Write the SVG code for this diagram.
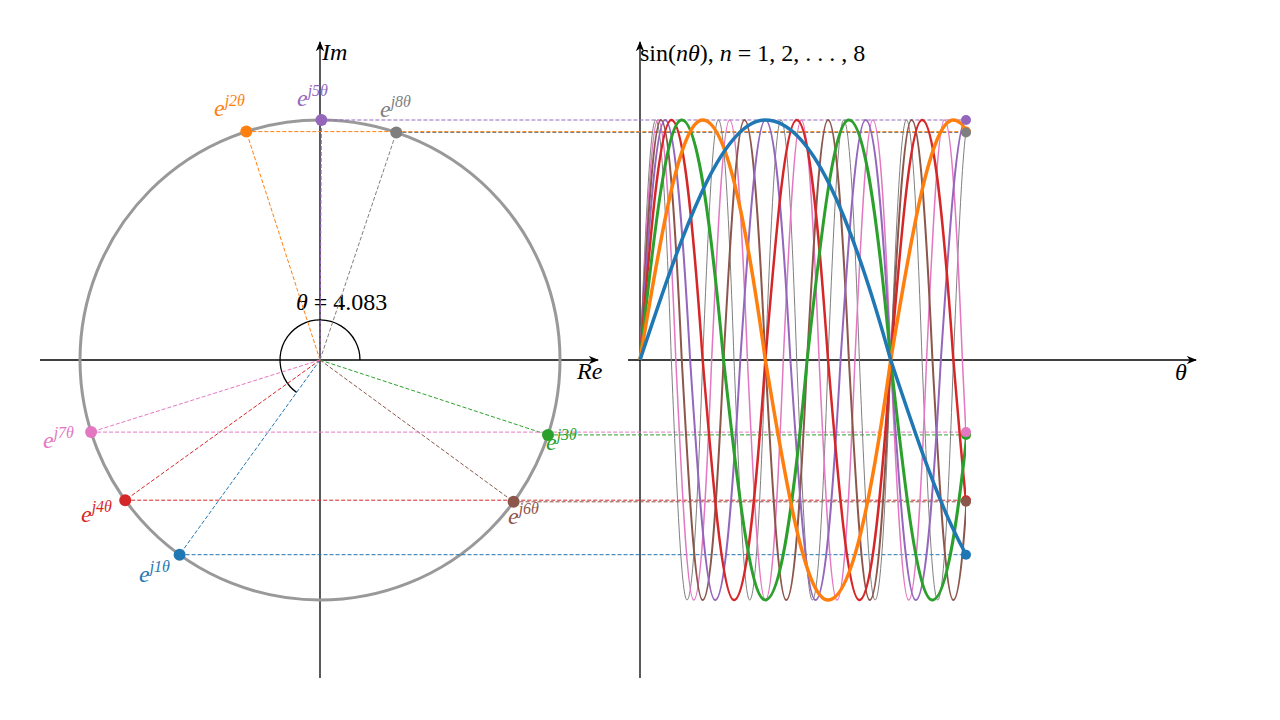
<svg xmlns="http://www.w3.org/2000/svg" width="1280" height="720" viewBox="0 0 1280 720">
<style>
.ax{stroke:#000;stroke-width:1.3;fill:none}
.lb{font-family:"Liberation Serif","DejaVu Serif",serif;font-size:24px}
.it{font-style:italic}
.dl{stroke-width:1;stroke-dasharray:4 2;fill:none}
.w{fill:none;stroke-linejoin:round}
</style>
<defs>
<marker id="ar" viewBox="0 0 10 10" refX="9" refY="5" markerWidth="8" markerHeight="8" orient="auto"><path d="M0,1 L10,5 L0,9 L3,5 Z" fill="#000"/></marker>
<clipPath id="cp"><rect x="638" y="100" width="328" height="520"/></clipPath>
</defs>
<rect width="1280" height="720" fill="#fff"/>
<g id="axes">
<line class="ax" x1="40" y1="360" x2="598" y2="360" marker-end="url(#ar)"/>
<line class="ax" x1="320" y1="678" x2="320" y2="42" marker-end="url(#ar)"/>
<line class="ax" x1="628" y1="360" x2="1196" y2="360" marker-end="url(#ar)"/>
<line class="ax" x1="640" y1="678" x2="640" y2="42" marker-end="url(#ar)"/>
<text class="lb it" x="322" y="60">Im</text>
<text class="lb it" x="577" y="379">Re</text>
<text class="lb it" x="1175" y="380">θ</text>
<text class="lb" x="640" y="61">sin(<tspan class="it">nθ</tspan>), <tspan class="it">n</tspan> = 1, 2, . . . , 8</text>
</g>
<g id="circle"><circle cx="320" cy="360" r="240" fill="none" stroke="#999" stroke-width="3"/></g>
<g id="angle">
<path d="M360,360 A40,40 0 1 0 296.6,392.4" fill="none" stroke="#000" stroke-width="1.3"/>
<text class="lb" x="296" y="310"><tspan class="it">θ</tspan> = 4.083</text>
</g>
<g id="connectors">
<path class="dl" stroke="#1f77b4" d="M320,360 L179.6,554.7 L966,554.7"/>
<path class="dl" stroke="#ff7f0e" d="M320,360 L246.3,131.6 L966,131.6"/>
<path class="dl" stroke="#2ca02c" d="M320,360 L548,434.9 L966,434.9"/>
<path class="dl" stroke="#d62728" d="M320,360 L125.2,500.2 L966,500.2"/>
<path class="dl" stroke="#9467bd" d="M320,360 L321.4,120 L966,120"/>
<path class="dl" stroke="#8c564b" d="M320,360 L513.6,501.8 L966,501.8"/>
<path class="dl" stroke="#e377c2" d="M320,360 L91.1,432.1 L966,432.1"/>
<path class="dl" stroke="#7f7f7f" d="M320,360 L396.3,132.5 L966,132.5"/>
</g>
<g id="waves" clip-path="url(#cp)">
<path class="w" stroke="#7f7f7f" stroke-width="1" d="M640,360 c5.11,-122.95 10,-240 15.67,-240 c5.67,0 10.56,93.05 15.67,240 c5.11,122.95 10,240 15.67,240 c5.67,0 10.56,-93.05 15.67,-240 c5.11,-122.95 10,-240 15.67,-240 c5.67,0 10.56,93.05 15.67,240 c5.11,122.95 10,240 15.67,240 c5.67,0 10.56,-93.05 15.67,-240 c5.11,-122.95 10,-240 15.67,-240 c5.67,0 10.56,93.05 15.67,240 c5.11,122.95 10,240 15.67,240 c5.67,0 10.56,-93.05 15.67,-240 c5.11,-122.95 10,-240 15.67,-240 c5.67,0 10.56,93.05 15.67,240 c5.11,122.95 10,240 15.67,240 c5.67,0 10.56,-93.05 15.67,-240 c5.11,-122.95 10,-240 15.67,-240 c5.67,0 10.56,93.05 15.67,240 c5.11,122.95 10,240 15.67,240 c5.67,0 10.56,-93.05 15.67,-240 c5.11,-122.95 10,-240 15.67,-240 c5.67,0 10.56,93.05 15.67,240 c5.11,122.95 10,240 15.67,240 c5.67,0 10.56,-93.05 15.67,-240"/>
<path class="w" stroke="#e377c2" stroke-width="1.5" d="M640,360 c5.84,-122.95 11.43,-240 17.91,-240 c6.48,0 12.07,93.05 17.91,240 c5.84,122.95 11.43,240 17.91,240 c6.48,0 12.07,-93.05 17.91,-240 c5.84,-122.95 11.43,-240 17.91,-240 c6.48,0 12.07,93.05 17.91,240 c5.84,122.95 11.43,240 17.91,240 c6.48,0 12.07,-93.05 17.91,-240 c5.84,-122.95 11.43,-240 17.91,-240 c6.48,0 12.07,93.05 17.91,240 c5.84,122.95 11.43,240 17.91,240 c6.48,0 12.07,-93.05 17.91,-240 c5.84,-122.95 11.43,-240 17.91,-240 c6.48,0 12.07,93.05 17.91,240 c5.84,122.95 11.43,240 17.91,240 c6.48,0 12.07,-93.05 17.91,-240 c5.84,-122.95 11.43,-240 17.91,-240 c6.48,0 12.07,93.05 17.91,240 c5.84,122.95 11.43,240 17.91,240 c6.48,0 12.07,-93.05 17.91,-240"/>
<path class="w" stroke="#8c564b" stroke-width="2" d="M640,360 c6.81,-122.95 13.33,-240 20.89,-240 c7.56,0 14.08,93.05 20.89,240 c6.81,122.95 13.33,240 20.89,240 c7.56,0 14.08,-93.05 20.89,-240 c6.81,-122.95 13.33,-240 20.89,-240 c7.56,0 14.08,93.05 20.89,240 c6.81,122.95 13.33,240 20.89,240 c7.56,0 14.08,-93.05 20.89,-240 c6.81,-122.95 13.33,-240 20.89,-240 c7.56,0 14.08,93.05 20.89,240 c6.81,122.95 13.33,240 20.89,240 c7.56,0 14.08,-93.05 20.89,-240 c6.81,-122.95 13.33,-240 20.89,-240 c7.56,0 14.08,93.05 20.89,240 c6.81,122.95 13.33,240 20.89,240 c7.56,0 14.08,-93.05 20.89,-240"/>
<path class="w" stroke="#9467bd" stroke-width="2" d="M640,360 c8.18,-122.95 16,-240 25.07,-240 c9.07,0 16.89,93.05 25.07,240 c8.18,122.95 16,240 25.07,240 c9.07,0 16.89,-93.05 25.07,-240 c8.18,-122.95 16,-240 25.07,-240 c9.07,0 16.89,93.05 25.07,240 c8.18,122.95 16,240 25.07,240 c9.07,0 16.89,-93.05 25.07,-240 c8.18,-122.95 16,-240 25.07,-240 c9.07,0 16.89,93.05 25.07,240 c8.18,122.95 16,240 25.07,240 c9.07,0 16.89,-93.05 25.07,-240 c8.18,-122.95 16,-240 25.07,-240 c9.07,0 16.89,93.05 25.07,240 c8.18,122.95 16,240 25.07,240 c9.07,0 16.89,-93.05 25.07,-240"/>
<path class="w" stroke="#d62728" stroke-width="2.5" d="M640,360 c10.22,-122.95 20,-240 31.34,-240 c11.34,0 21.12,93.05 31.34,240 c10.22,122.95 20,240 31.34,240 c11.34,0 21.12,-93.05 31.34,-240 c10.22,-122.95 20,-240 31.34,-240 c11.34,0 21.12,93.05 31.34,240 c10.22,122.95 20,240 31.34,240 c11.34,0 21.12,-93.05 31.34,-240 c10.22,-122.95 20,-240 31.34,-240 c11.34,0 21.12,93.05 31.34,240 c10.22,122.95 20,240 31.34,240 c11.34,0 21.12,-93.05 31.34,-240"/>
<path class="w" stroke="#2ca02c" stroke-width="3" d="M640,360 c13.62,-122.95 26.66,-240 41.78,-240 c15.12,0 28.16,93.05 41.78,240 c13.62,122.95 26.66,240 41.78,240 c15.12,0 28.16,-93.05 41.78,-240 c13.62,-122.95 26.66,-240 41.78,-240 c15.12,0 28.16,93.05 41.78,240 c13.62,122.95 26.66,240 41.78,240 c15.12,0 28.16,-93.05 41.78,-240"/>
<path class="w" stroke="#ff7f0e" stroke-width="3.5" d="M640,360 c20.44,-122.95 40,-240 62.68,-240 c22.68,0 42.24,93.05 62.68,240 c20.44,122.95 40,240 62.68,240 c22.68,0 42.24,-93.05 62.68,-240 c20.44,-122.95 40,-240 62.68,-240 c22.68,0 42.24,93.05 62.68,240 c20.44,122.95 40,240 62.68,240 c22.68,0 42.24,-93.05 62.68,-240"/>
<path class="w" stroke="#1f77b4" stroke-width="3.5" d="M640,360 c40.88,-122.95 79.99,-240 125.35,-240 c45.36,0 84.47,93.05 125.35,240 c40.88,122.95 79.99,240 125.35,240 c45.36,0 84.47,-93.05 125.35,-240"/>
</g>
<g id="points">
<circle cx="179.6" cy="554.7" r="6" fill="#1f77b4"/><circle cx="966" cy="554.7" r="5" fill="#1f77b4"/>
<circle cx="246.3" cy="131.6" r="6" fill="#ff7f0e"/><circle cx="966" cy="131.6" r="5" fill="#ff7f0e"/>
<circle cx="548" cy="434.9" r="6" fill="#2ca02c"/><circle cx="966" cy="434.9" r="5" fill="#2ca02c"/>
<circle cx="125.2" cy="500.2" r="6" fill="#d62728"/><circle cx="966" cy="500.2" r="5" fill="#d62728"/>
<circle cx="321.4" cy="120" r="6" fill="#9467bd"/><circle cx="966" cy="120" r="5" fill="#9467bd"/>
<circle cx="513.6" cy="501.8" r="6" fill="#8c564b"/><circle cx="966" cy="501.8" r="5" fill="#8c564b"/>
<circle cx="91.1" cy="432.1" r="6" fill="#e377c2"/><circle cx="966" cy="432.1" r="5" fill="#e377c2"/>
<circle cx="396.3" cy="132.5" r="6" fill="#7f7f7f"/><circle cx="966" cy="132.5" r="5" fill="#7f7f7f"/>
</g>
<g id="labels" class="lb">
<text x="214" y="116" fill="#ff7f0e"><tspan class="it">e</tspan><tspan class="it" font-size="16" dy="-10">j2θ</tspan></text>
<text x="297" y="106" fill="#9467bd"><tspan class="it">e</tspan><tspan class="it" font-size="16" dy="-10">j5θ</tspan></text>
<text x="380" y="117" fill="#7f7f7f"><tspan class="it">e</tspan><tspan class="it" font-size="16" dy="-10">j8θ</tspan></text>
<text x="43" y="448" fill="#e377c2"><tspan class="it">e</tspan><tspan class="it" font-size="16" dy="-10">j7θ</tspan></text>
<text x="546" y="450" fill="#2ca02c"><tspan class="it">e</tspan><tspan class="it" font-size="16" dy="-10">j3θ</tspan></text>
<text x="81" y="522" fill="#d62728"><tspan class="it">e</tspan><tspan class="it" font-size="16" dy="-10">j4θ</tspan></text>
<text x="508" y="524" fill="#8c564b"><tspan class="it">e</tspan><tspan class="it" font-size="16" dy="-10">j6θ</tspan></text>
<text x="139" y="582" fill="#1f77b4"><tspan class="it">e</tspan><tspan class="it" font-size="16" dy="-10">j1θ</tspan></text>
</g>
</svg>
